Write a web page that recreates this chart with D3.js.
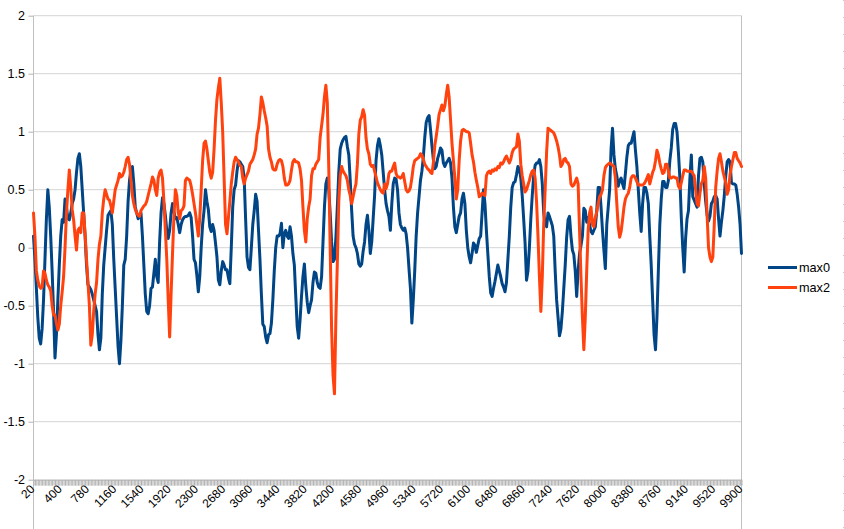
<!DOCTYPE html>
<html>
<head>
<meta charset="utf-8">
<script src="https://cdn.jsdelivr.net/npm/d3@7"></script>
<style>
  body { margin: 0; background: #fff; }
  #chart text { font-family: "Liberation Sans", Arial, sans-serif; fill: #000; }
</style>
</head>
<body>
<div id="chart"></div>
<script>
// categories 20, 40, ... 9900
const categories = d3.range(20, 9901, 20);
const tickLabels = ["20","400","780","1160","1540","1920","2300","2680","3060","3440","3820","4200","4580",
  "4960","5340","5720","6100","6480","6860","7240","7620","8000","8380","8760","9140","9520","9900"];
const yTicks = [-2, -1.5, -1, -0.5, 0, 0.5, 1, 1.5, 2];
const seriesNames = ["max0", "max2"];
const seriesColors = ["#004586", "#ff420e"];

const max0 = [
  0.1, -0.1, -0.35, -0.6, -0.78, -0.83, -0.7, -0.45, -0.1, 0.25,
  0.5, 0.35, 0.1, -0.2, -0.55, -0.95, -0.75, -0.45, -0.15, 0.1,
  0.24, 0.22, 0.42, 0.35, 0.25, 0.24, 0.3, 0.38, 0.42, 0.5,
  0.65, 0.77, 0.81, 0.7, 0.5, 0.3, 0.1, -0.15, -0.32, -0.34,
  -0.36, -0.4, -0.45, -0.5, -0.55, -0.75, -0.88, -0.78, -0.4, -0.15,
  0.0, 0.15, 0.28, 0.3, 0.32, 0.2, -0.1, -0.35, -0.6, -0.85,
  -1.0, -0.8, -0.5, -0.15, -0.1, 0.1, 0.4, 0.58, 0.68, 0.7,
  0.55, 0.35, 0.3, 0.25, 0.28, 0.3, 0.1, -0.15, -0.4, -0.55,
  -0.57, -0.5, -0.35, -0.34, -0.22, -0.1, -0.25, -0.3, 0.05, 0.3,
  0.43, 0.38, 0.28, 0.15, 0.08, 0.15, 0.3, 0.38, 0.31, 0.25,
  0.26, 0.2, 0.13, 0.2, 0.24, 0.26, 0.27, 0.27, 0.28, 0.3,
  0.26, 0.1, -0.1, -0.13, -0.24, -0.38, -0.25, 0.0, 0.2, 0.32,
  0.5, 0.4, 0.33, 0.18, 0.14, 0.2, 0.15, 0.04, -0.08, -0.28,
  -0.32, -0.2, -0.12, -0.15, -0.19, -0.19, -0.26, -0.31, 0.0, 0.35,
  0.5, 0.54, 0.66, 0.75, 0.74, 0.72, 0.7, 0.6, 0.25, -0.08,
  -0.17, -0.19, 0.0, 0.2, 0.32, 0.46, 0.4, 0.15, -0.1, -0.4,
  -0.66, -0.68, -0.77, -0.82, -0.75, -0.74, -0.65, -0.45, -0.2, 0.0,
  0.1, 0.1, 0.12, 0.21, 0.0, 0.12, 0.15, 0.1, 0.08, 0.18,
  0.1, -0.05, -0.15, -0.42, -0.68, -0.78, -0.62, -0.42, -0.25, -0.14,
  -0.33, -0.47, -0.56, -0.5, -0.45, -0.3, -0.21, -0.22, -0.3, -0.34,
  -0.35, -0.25, 0.05, 0.35, 0.55, 0.6, 0.5, 0.3, 0.05, -0.12,
  -0.1, 0.09, 0.35, 0.65, 0.85, 0.9, 0.93, 0.95, 0.96, 0.87,
  0.8, 0.58, 0.32, 0.1, 0.03, 0.0, -0.05, -0.14, -0.16, -0.14,
  -0.03, 0.05, 0.2, 0.28, 0.15, -0.05, 0.05, 0.25, 0.45, 0.75,
  0.88, 0.94, 0.88, 0.8, 0.65, 0.5, 0.38, 0.32, 0.27, 0.15,
  0.38, 0.55, 0.6, 0.59, 0.5, 0.3, 0.2, 0.17, 0.15, 0.17,
  0.12, 0.0, -0.18, -0.35, -0.65, -0.45, -0.2, 0.1, 0.3, 0.44,
  0.58, 0.66, 0.78, 0.95, 1.08, 1.12, 1.14, 1.02, 0.88, 0.76,
  0.68, 0.7, 0.77, 0.81, 0.86, 0.84, 0.73, 0.7, 0.73, 0.75,
  0.77, 0.73, 0.6, 0.35, 0.18, 0.13, 0.2, 0.27, 0.3, 0.42,
  0.47, 0.38, 0.15, 0.0, -0.08, -0.13, -0.05, 0.04, 0.02, -0.04,
  0.02, 0.08, 0.1, 0.3, 0.5, 0.38, 0.15, -0.05, -0.25, -0.39,
  -0.42, -0.35, -0.29, -0.22, -0.15, -0.2, -0.25, -0.31, -0.34, -0.38,
  -0.3, -0.1, 0.1, 0.35, 0.52, 0.56, 0.57, 0.63, 0.7, 0.68,
  0.6, 0.45, 0.25, 0.04, -0.28, -0.2, 0.0, 0.25, 0.45, 0.62,
  0.71, 0.73, 0.73, 0.76, 0.7, 0.55, 0.3, 0.2, 0.18, 0.3,
  0.27, 0.23, 0.19, 0.1, -0.2, -0.45, -0.6, -0.76, -0.7, -0.55,
  -0.35, -0.15, 0.09, 0.24, 0.27, 0.1, -0.02, -0.06, -0.2, -0.42,
  -0.2, -0.05, 0.02, 0.1, 0.34, 0.32, 0.22, 0.26, 0.2, 0.14,
  0.12, 0.15, 0.18, 0.32, 0.52, 0.52, 0.35, 0.15, -0.02, -0.18,
  0.2, 0.35, 0.5, 0.85, 1.03, 0.8, 0.68, 0.62, 0.53, 0.58,
  0.6, 0.55, 0.51, 0.64, 0.78, 0.88, 0.9, 0.9, 0.95, 1.0,
  0.84, 0.7, 0.5, 0.3, 0.14, 0.38, 0.52, 0.52, 0.47, 0.38,
  0.1, -0.15, -0.45, -0.75, -0.88, -0.6, -0.19, 0.2, 0.42, 0.57,
  0.57, 0.52, 0.52, 0.58, 0.75, 0.86, 1.02, 1.07, 1.07, 1.0,
  0.82, 0.6, 0.26, 0.0, -0.21, 0.08, 0.25, 0.32, 0.6, 0.8,
  0.44, 0.41, 0.38, 0.35, 0.62, 0.77, 0.78, 0.74, 0.55, 0.4,
  0.28, 0.23, 0.27, 0.38, 0.4, 0.44, 0.45, 0.42, 0.25, 0.1,
  0.22, 0.32, 0.45, 0.62, 0.74, 0.76, 0.74, 0.56, 0.55, 0.55,
  0.54, 0.46, 0.35, 0.2, -0.05
];

const max2 = [
  0.3, 0.1, -0.2, -0.28, -0.33, -0.35, -0.34, -0.2, -0.22, -0.28,
  -0.32, -0.34, -0.37, -0.5, -0.58, -0.58, -0.65, -0.71, -0.66, -0.5,
  -0.38, -0.25, 0.0, 0.3, 0.5, 0.67, 0.52, 0.33, 0.24, 0.1,
  -0.02, 0.15, 0.17, 0.13, 0.3, 0.3, 0.12, -0.1, -0.3, -0.5,
  -0.84, -0.75, -0.55, -0.4, -0.3, -0.1, 0.03, 0.1, 0.3, 0.42,
  0.5, 0.46, 0.42, 0.41, 0.36, 0.3, 0.4, 0.5, 0.54, 0.58,
  0.64, 0.61, 0.62, 0.65, 0.7, 0.76, 0.78, 0.72, 0.58, 0.45,
  0.38, 0.33, 0.3, 0.28, 0.27, 0.32, 0.34, 0.36, 0.37, 0.4,
  0.45, 0.5, 0.55, 0.61, 0.58, 0.5, 0.45, 0.6, 0.65, 0.67,
  0.6, 0.4, 0.15, -0.1, -0.45, -0.77, -0.4, -0.05, 0.27, 0.5,
  0.45, 0.3, 0.25, 0.32, 0.33, 0.36, 0.58, 0.6, 0.59, 0.58,
  0.53, 0.46, 0.38, 0.3, 0.2, 0.1, 0.25, 0.5, 0.75, 0.9,
  0.92, 0.85, 0.75, 0.65, 0.6, 0.65, 0.85, 1.1, 1.28, 1.38,
  1.46, 1.25, 1.0, 0.6, 0.2, 0.12, 0.26, 0.4, 0.55, 0.65,
  0.74, 0.78, 0.76, 0.74, 0.71, 0.7, 0.6, 0.55, 0.6, 0.63,
  0.66, 0.72, 0.74, 0.76, 0.8, 0.85, 0.98, 1.03, 1.15, 1.3,
  1.25, 1.18, 1.12, 1.05, 0.85, 0.78, 0.74, 0.68, 0.67, 0.67,
  0.72, 0.75, 0.76, 0.75, 0.7, 0.6, 0.54, 0.54, 0.55, 0.58,
  0.67, 0.74, 0.76, 0.74, 0.74, 0.73, 0.68, 0.58, 0.35, 0.15,
  0.05, 0.25, 0.35, 0.42, 0.62, 0.68, 0.68, 0.72, 0.74, 0.76,
  0.95, 1.05, 1.15, 1.3, 1.4, 1.25, 0.7, 0.0, -0.7, -1.1,
  -1.26, -0.6, -0.13, 0.4, 0.62, 0.7, 0.66, 0.64, 0.62, 0.58,
  0.5, 0.45, 0.38, 0.44, 0.5, 0.55, 0.72, 0.98, 1.1, 1.13,
  1.19, 1.14, 0.95, 0.85, 0.81, 0.72, 0.7, 0.71, 0.66, 0.61,
  0.56, 0.53, 0.5, 0.48, 0.47, 0.55, 0.51, 0.55, 0.64, 0.66,
  0.66, 0.7, 0.73, 0.64, 0.61, 0.61, 0.6, 0.61, 0.64, 0.57,
  0.5, 0.48, 0.49, 0.52, 0.6, 0.7, 0.75, 0.76, 0.77, 0.78,
  0.81, 0.8, 0.76, 0.72, 0.7, 0.68, 0.67, 0.65, 0.64, 0.73,
  0.88, 0.96, 1.05, 1.15, 1.19, 1.23, 1.18, 1.22, 1.32, 1.4,
  1.3, 1.1, 0.9, 0.75, 0.6, 0.42, 0.5, 0.75, 0.92, 1.01,
  1.02, 1.01, 1.0, 1.0, 0.99, 0.9, 0.8, 0.74, 0.65, 0.58,
  0.52, 0.44, 0.45, 0.47, 0.46, 0.45, 0.62, 0.65, 0.66, 0.64,
  0.67, 0.66, 0.68, 0.67, 0.7, 0.69, 0.73, 0.72, 0.74, 0.77,
  0.79, 0.76, 0.73, 0.76, 0.82, 0.85, 0.86, 0.87, 0.98, 0.92,
  0.72, 0.62, 0.55, 0.48, 0.5, 0.54, 0.58, 0.63, 0.66, 0.67,
  0.6, 0.4, 0.1, -0.25, -0.55, -0.25, 0.2, 0.5, 0.82, 1.03,
  1.02, 1.01, 1.0, 0.99, 0.96, 0.92, 0.87, 0.8, 0.7, 0.72,
  0.76, 0.77, 0.74, 0.73, 0.7, 0.55, 0.53, 0.54, 0.57, 0.6,
  0.55, 0.15, -0.25, -0.6, -0.88, -0.6, -0.2, 0.15, 0.3, 0.35,
  0.2, 0.18, 0.26, 0.31, 0.38, 0.44, 0.46, 0.5, 0.62, 0.69,
  0.71, 0.72, 0.73, 0.72, 0.71, 0.7, 0.6, 0.38, 0.18, 0.09,
  0.14, 0.24, 0.35, 0.42, 0.45, 0.47, 0.52, 0.6, 0.62, 0.62,
  0.6, 0.57, 0.54, 0.54, 0.54, 0.54, 0.55, 0.57, 0.6, 0.63,
  0.55, 0.6, 0.65, 0.68, 0.75, 0.84, 0.8, 0.73, 0.68, 0.64,
  0.65, 0.72, 0.72, 0.66, 0.6, 0.6, 0.61, 0.61, 0.6, 0.6,
  0.53, 0.51, 0.56, 0.62, 0.67, 0.67, 0.66, 0.66, 0.66, 0.66,
  0.64, 0.62, 0.5, 0.38, 0.36, 0.47, 0.55, 0.58, 0.7, 0.6,
  0.28, 0.0, -0.08, -0.12, -0.08, 0.2, 0.52, 0.66, 0.77, 0.81,
  0.74, 0.66, 0.61, 0.56, 0.46, 0.5, 0.63, 0.7, 0.76, 0.82,
  0.82, 0.77, 0.75, 0.73, 0.7
];

const series = [max0, max2];

const width = 844;
const height = 529;
const margin = {top: 15.7, right: 102.5, bottom: 49.3, left: 33.5};

const svgCanvas = d3.select("#chart")
  .append("svg")
  .attr("width", width)
  .attr("height", height);

// vertical scale
let y = d3.scaleLinear().domain([-2, 2]).range([height - margin.bottom, margin.top]);

// horizontal scale, one point per category, first and last on the plot edges
let x = d3.scalePoint().domain(categories).range([margin.left, width - margin.right]);

// grid lines
svgCanvas.append("g")
  .selectAll("line")
  .data(yTicks.filter(d => d > -2))
  .join("line")
    .attr("x1", margin.left)
    .attr("x2", width - margin.right)
    .attr("y1", d => y(d))
    .attr("y2", d => y(d))
    .attr("stroke", "#d4d4d4")
    .attr("stroke-width", 1);

// edge lines, they run down through the label area
svgCanvas.append("g")
  .selectAll("line")
  .data([margin.left, width - margin.right])
  .join("line")
    .attr("x1", d => d)
    .attr("x2", d => d)
    .attr("y1", margin.top)
    .attr("y2", height)
    .attr("stroke", "#c0c0c0")
    .attr("stroke-width", 1);

// faint dotted frame edge on the right
svgCanvas.append("line")
  .attr("x1", width - 0.5).attr("x2", width - 0.5)
  .attr("y1", 0).attr("y2", height)
  .attr("stroke", "#c8c8c8")
  .attr("stroke-dasharray", "1,16");

// Y axis
const yAxis = svgCanvas.append("g")
  .attr("transform", "translate(" + margin.left + ",0)")
  .call(
    d3.axisLeft(y)
      .tickValues(yTicks)
      .tickSize(5)
      .tickPadding(3.5)
      .tickFormat(d => String(d))
  );
yAxis.select(".domain").remove();
yAxis.selectAll("line").attr("stroke", "#b3b3b3");
yAxis.selectAll("text").attr("font-size", 12.5).attr("dy", "0.34em");

// X axis, a tick on every category
const xAxis = svgCanvas.append("g")
  .attr("transform", "translate(0," + (height - margin.bottom) + ")")
  .call(
    d3.axisBottom(x)
      .tickSize(6)
      .tickSizeOuter(0)
      .tickFormat(d => tickLabels.includes(String(d)) ? String(d) : "")
  );
xAxis.select(".domain").attr("stroke", "#b3b3b3");
xAxis.selectAll("line").attr("stroke", "#b3b3b3");
xAxis.selectAll("text")
  .attr("font-size", 12)
  .attr("text-anchor", "end")
  .attr("x", null).attr("y", null).attr("dy", null)
  .attr("transform", "translate(1.5,10) rotate(-45)");

// DATA
const line = d3.line()
  .x((d, i) => x(categories[i]))
  .y(d => y(d));

svgCanvas.append("g")
  .selectAll("path")
  .data(series)
  .join("path")
    .attr("fill", "none")
    .attr("stroke", (d, i) => seriesColors[i])
    .attr("stroke-width", 3)
    .attr("stroke-linejoin", "round")
    .attr("stroke-linecap", "round")
    .attr("d", line);

// legend
const legend = svgCanvas.append("g")
  .selectAll("g")
  .data(seriesNames)
  .join("g")
    .attr("transform", (d, i) => "translate(768," + (267.5 + i * 20) + ")");

legend.append("line")
  .attr("x1", 0).attr("x2", 29)
  .attr("stroke", (d, i) => seriesColors[i])
  .attr("stroke-width", 3);

legend.append("text")
  .attr("x", 31)
  .attr("dy", "0.35em")
  .attr("font-size", 12.7)
  .text(d => d);
</script>
</body>
</html>
